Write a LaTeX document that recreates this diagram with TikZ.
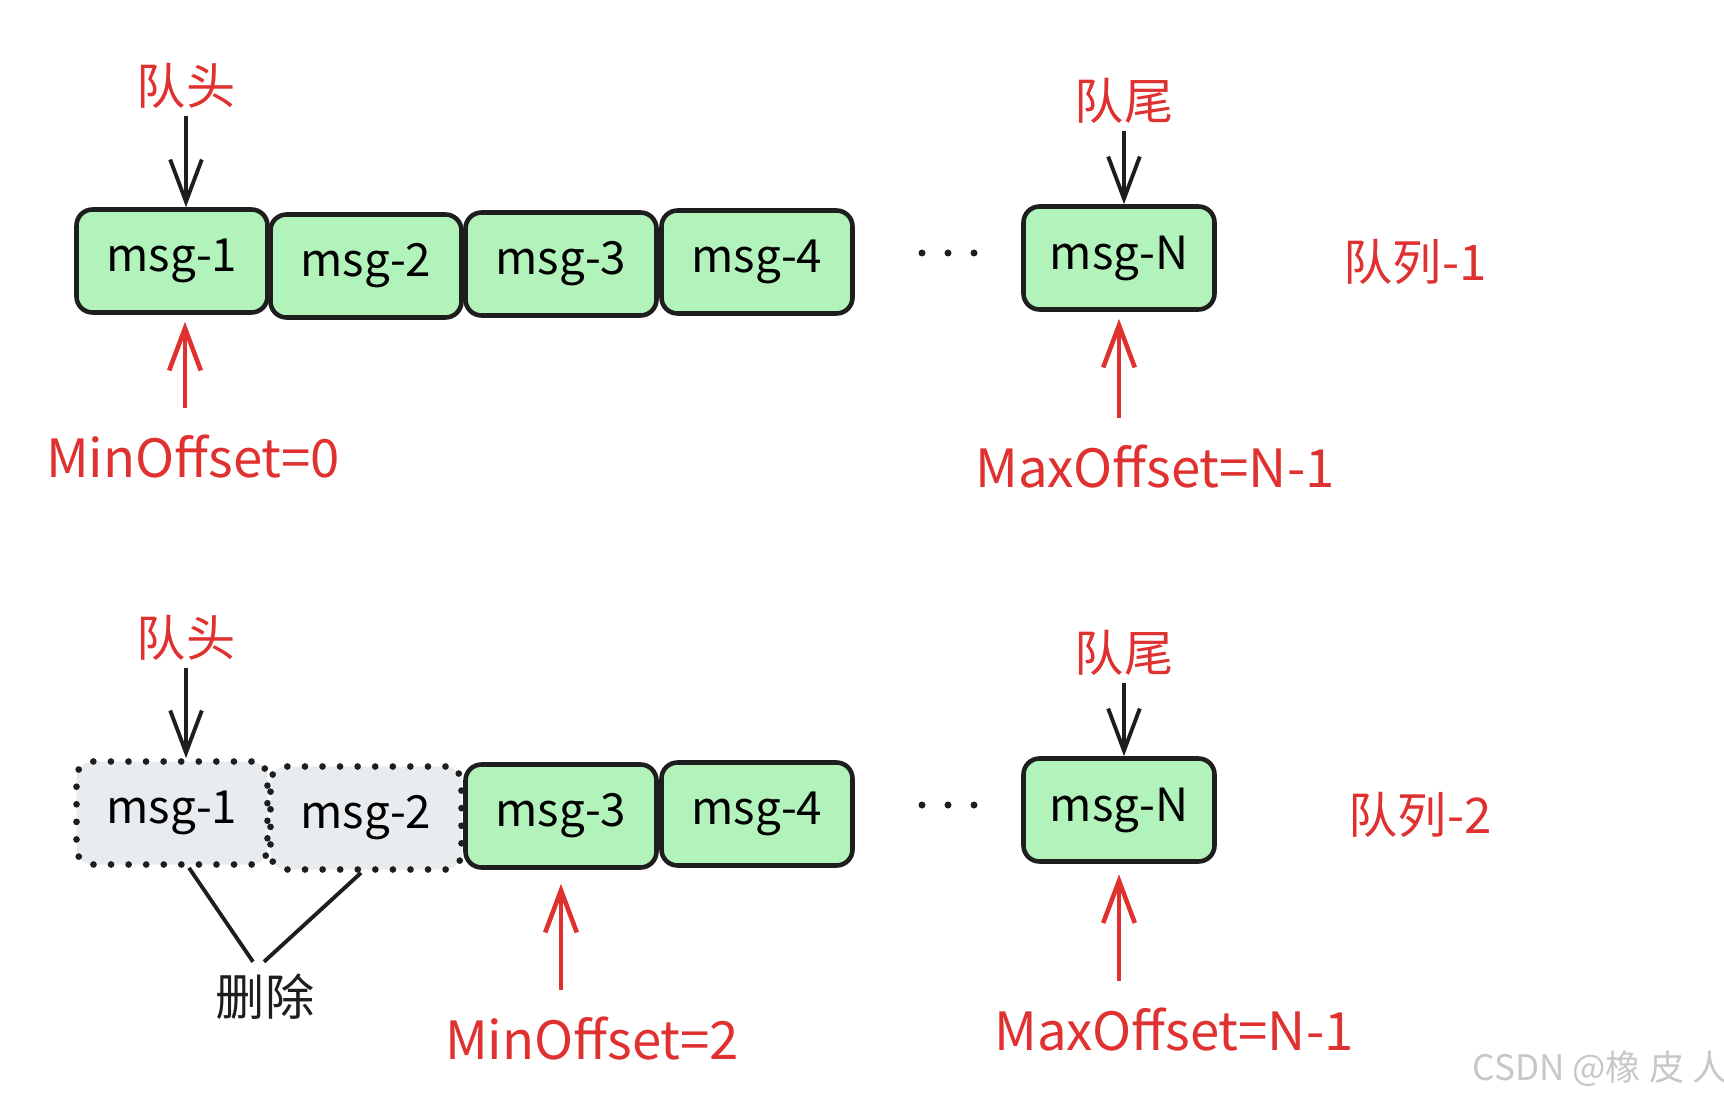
\documentclass[tikz,border=0pt]{standalone}
\usepackage{fontspec}
\setmainfont{Noto Sans CJK SC}
\usepackage{tikz}
\usetikzlibrary{arrows.meta}
\tikzset{>={Straight Barb[length=12pt,width=9pt]}}
\definecolor{msggreen}{HTML}{B2F2BB}
\definecolor{msggray}{HTML}{E9ECEF}
\definecolor{hintred}{HTML}{E03131}
\definecolor{inkblack}{HTML}{1E1E1E}
\tikzset{
    msg/.style={draw=inkblack, fill=msggreen, line width=1.3pt, rounded corners=1.6mm,
        minimum width=19.1mm, minimum height=10.3mm, font=\fontsize{13}{13}\selectfont},
    msgdel/.style={msg, fill=msggray, line width=1.9pt, line cap=round, dash pattern=on 0pt off 5pt},
    ptr/.style={text=hintred, font=\fontsize{14}{14}\selectfont},
    offlabel/.style={text=hintred, font=\fontsize{15}{15}\selectfont},
    headarrow/.style={->, draw=inkblack, line width=1.1pt, shorten <=-0.5mm},
    offarrow/.style={->, draw=hintred, line width=1.3pt, shorten <=1.5mm},
}

\begin{document}
\begin{tikzpicture}[x=0.1mm, y=-0.1mm]
    \useasboundingbox(0,0)rectangle(1724,1099);
    % queue 1
    \node[msg](a1)at(172,261){msg-1};
    \node[msg](a2)at(366,266){msg-2};
    \node[msg](a3)at(561,264){msg-3};
    \node[msg](a4)at(757,262){msg-4};
    \node[msg](aN)at(1119,258){msg-N};
    \fill[inkblack](922,253)circle(0.35mm)(948,253)circle(0.35mm)(974,253)circle(0.35mm);
    \node[ptr](h1)at(186,86){队头};
    \node[ptr](t1)at(1124,101){队尾};
    \node[ptr](q1)at(1415,262){队列-1};
    \node[offlabel](m1)at(193,457){MinOffset=0};
    \node[offlabel](x1)at(1155,467){MaxOffset=N-1};
    \draw[headarrow](h1.south)--(h1.south|-a1.north);
    \draw[headarrow](t1.south)--(t1.south|-aN.north);
    \draw[offarrow, shorten >=2pt](m1.north-|185,0)--(a1.south-|185,0);
    \draw[offarrow, shorten >=2pt](aN.south|-x1.north)--(aN.south);
    % queue 2
    \node[msgdel](b1)at(172,813){msg-1};
    \node[msgdel](b2)at(366,818){msg-2};
    \node[msg](b3)at(561,816){msg-3};
    \node[msg](b4)at(757,814){msg-4};
    \node[msg](bN)at(1119,810){msg-N};
    \fill[inkblack](922,805)circle(0.35mm)(948,805)circle(0.35mm)(974,805)circle(0.35mm);
    \node[ptr](h2)at(186,638){队头};
    \node[ptr](t2)at(1124,653){队尾};
    \node[ptr](q2)at(1420,815){队列-2};
    \node[offlabel](m2)at(592,1039){MinOffset=2};
    \node[offlabel](x2)at(1174,1030){MaxOffset=N-1};
    \node[font=\fontsize{14}{14}\selectfont, text=inkblack](del)at(265,997){删除};
    \draw[headarrow](h2.south)--(h2.south|-b1.north);
    \draw[headarrow](t2.south)--(t2.south|-bN.north);
    \draw[offarrow, shorten >=4pt](b3.south|-m2.north)--(b3.south);
    \draw[offarrow, shorten >=3pt](bN.south|-x2.north)--(bN.south);
    \draw[draw=inkblack, line width=1.1pt]([xshift=1.7mm]b1.south)--([xshift=-1.2mm]del.north)
        ([xshift=-0.5mm]b2.south)--([xshift=-0.1mm]del.north);
    % \node(wm)at(1600,1069){};
    \node[text=black!22, font=\fontsize{10}{10}\selectfont](wm)at(1600,1069){CSDN @橡 皮 人};
\end{tikzpicture}
\end{document}
